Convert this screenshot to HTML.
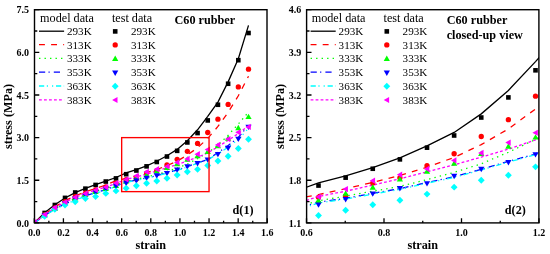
<!DOCTYPE html>
<html><head><meta charset="utf-8"><style>
html,body{margin:0;padding:0;background:#fff;}
body{width:550px;height:254px;overflow:hidden;}
svg{display:block;filter:blur(0.3px);}
text{font-family:"Liberation Serif", serif;fill:#000;}
.tl{font-size:10px;font-weight:bold;}
.ax{font-size:12.2px;font-weight:bold;}
.lg{font-size:12.2px;}
.le{font-size:11.1px;}
</style></head><body>
<svg width="550" height="254" viewBox="0 0 550 254">
<rect width="550" height="254" fill="#fff"/>
<clipPath id="c1"><rect x="34.3" y="9.7" width="233" height="213.2"/></clipPath>
<g clip-path="url(#c1)">
<path d="M34.45 222.75 L44.64 212.69 L54.83 204.75 L65.03 197.95 L75.22 192.56 L85.41 188.31 L95.61 184.62 L105.8 181.2 L116 177.49 L126.19 172.93 L136.38 169.66 L146.58 165.82 L156.77 161.24 L166.96 155.7 L177.16 149.42 L187.35 140.75 L197.55 129.8 L207.74 116.36 L217.93 102.08 L228.13 81.86 L238.32 58.71 L248.51 25.33" fill="none" stroke="#000" stroke-width="1.3"/>
<path d="M34.45 222.78 L44.64 214.27 L54.83 206.89 L65.03 200.66 L75.22 195.84 L85.41 191.87 L95.61 188.46 L105.8 185.04 L116 180.69 L126.19 178.41 L136.38 175.71 L146.58 172.73 L156.77 169.54 L166.96 165.62 L177.16 161.07 L187.35 155.1 L197.55 147.77 L207.74 138.47 L217.93 126.44 L228.13 112.41 L238.32 95.77 L248.51 76.22" fill="none" stroke="#f00" stroke-width="1.3" stroke-dasharray="5.9 6.2" stroke-dashoffset="10.52"/>
<path d="M34.45 222.79 L44.64 215.13 L54.83 208.61 L65.03 202.94 L75.22 198.4 L85.41 194.71 L95.61 191.59 L105.8 188.46 L116 185.03 L126.19 181.28 L136.38 179.18 L146.58 176.85 L156.77 174.57 L166.96 171.45 L177.16 168.04 L187.35 164.06 L197.55 158.66 L207.74 152.69 L217.93 145.43 L228.13 135.19 L238.32 124.04 L248.51 112.04" fill="none" stroke="#0f0" stroke-width="1.3" stroke-dasharray="1.4 4.1"/>
<path d="M34.45 222.79 L44.64 215.42 L54.83 209.18 L65.03 203.79 L75.22 199.54 L85.41 195.85 L95.61 192.72 L105.8 189.59 L116 185.87 L126.19 181.97 L136.38 180.17 L146.58 177.84 L156.77 175.65 L166.96 172.78 L177.16 170.08 L187.35 166.62 L197.55 162.92 L207.74 159.48 L217.93 152.65 L228.13 145.47 L238.32 137.45 L248.51 125.24" fill="none" stroke="#00f" stroke-width="1.3" stroke-dasharray="6.2 3.3 1.2 4.1"/>
<path d="M34.45 222.8 L44.64 215.7 L54.83 209.47 L65.03 204.36 L75.22 200.11 L85.41 196.42 L95.61 193.29 L105.8 190.16 L116 186.44 L126.19 182.31 L136.38 180.52 L146.58 178.18 L156.77 176 L166.96 173.12 L177.16 170.42 L187.35 166.96 L197.55 163.26 L207.74 159.82 L217.93 153.74 L228.13 147.15 L238.32 139.73 L248.51 128.32" fill="none" stroke="#0ff" stroke-width="1.3" stroke-dasharray="5.2 2.6 1.2 4 1.2 2.8"/>
<path d="M34.45 222.78 L44.64 214.56 L54.83 207.75 L65.03 202.08 L75.22 197.26 L85.41 193.57 L95.61 190.16 L105.8 187.03 L116 183.61 L126.19 179.27 L136.38 176.85 L146.58 174.01 L156.77 171.02 L166.96 167.81 L177.16 164.54 L187.35 160.93 L197.55 157.23 L207.74 152.89 L217.93 146.85 L228.13 140.31 L238.32 133.53 L248.51 125.68" fill="none" stroke="#f0f" stroke-width="1.3" stroke-dasharray="2.8 2.2"/>
<rect x="32.15" y="220.6" width="4.6" height="4.6" fill="#000"/>
<rect x="42.34" y="210.65" width="4.6" height="4.6" fill="#000"/>
<rect x="52.53" y="202.69" width="4.6" height="4.6" fill="#000"/>
<rect x="62.73" y="195.58" width="4.6" height="4.6" fill="#000"/>
<rect x="72.92" y="190.18" width="4.6" height="4.6" fill="#000"/>
<rect x="83.11" y="186.35" width="4.6" height="4.6" fill="#000"/>
<rect x="93.31" y="182.65" width="4.6" height="4.6" fill="#000"/>
<rect x="103.5" y="179.24" width="4.6" height="4.6" fill="#000"/>
<rect x="113.7" y="176.11" width="4.6" height="4.6" fill="#000"/>
<rect x="123.89" y="171.91" width="4.6" height="4.6" fill="#000"/>
<rect x="134.08" y="168.21" width="4.6" height="4.6" fill="#000"/>
<rect x="144.28" y="164.06" width="4.6" height="4.6" fill="#000"/>
<rect x="154.47" y="159.68" width="4.6" height="4.6" fill="#000"/>
<rect x="164.66" y="154.22" width="4.6" height="4.6" fill="#000"/>
<rect x="174.86" y="148.54" width="4.6" height="4.6" fill="#000"/>
<rect x="185.05" y="140.15" width="4.6" height="4.6" fill="#000"/>
<rect x="195.25" y="130.77" width="4.6" height="4.6" fill="#000"/>
<rect x="205.44" y="118.12" width="4.6" height="4.6" fill="#000"/>
<rect x="215.63" y="102.46" width="4.6" height="4.6" fill="#000"/>
<rect x="225.83" y="81.45" width="4.6" height="4.6" fill="#000"/>
<rect x="236.02" y="57.89" width="4.6" height="4.6" fill="#000"/>
<rect x="246.21" y="30.71" width="4.6" height="4.6" fill="#000"/>
<circle cx="34.45" cy="222.9" r="2.65" fill="#f00"/>
<circle cx="44.64" cy="214.66" r="2.65" fill="#f00"/>
<circle cx="54.83" cy="207.83" r="2.65" fill="#f00"/>
<circle cx="65.03" cy="201.58" r="2.65" fill="#f00"/>
<circle cx="75.22" cy="196.75" r="2.65" fill="#f00"/>
<circle cx="85.41" cy="193.19" r="2.65" fill="#f00"/>
<circle cx="95.61" cy="189.78" r="2.65" fill="#f00"/>
<circle cx="105.8" cy="186.8" r="2.65" fill="#f00"/>
<circle cx="116" cy="183.1" r="2.65" fill="#f00"/>
<circle cx="126.19" cy="179.69" r="2.65" fill="#f00"/>
<circle cx="136.38" cy="178.98" r="2.65" fill="#f00"/>
<circle cx="146.58" cy="173.07" r="2.65" fill="#f00"/>
<circle cx="156.77" cy="170.59" r="2.65" fill="#f00"/>
<circle cx="166.96" cy="164.94" r="2.65" fill="#f00"/>
<circle cx="177.16" cy="159.37" r="2.65" fill="#f00"/>
<circle cx="187.35" cy="151.32" r="2.65" fill="#f00"/>
<circle cx="197.55" cy="143.45" r="2.65" fill="#f00"/>
<circle cx="207.74" cy="132.5" r="2.65" fill="#f00"/>
<circle cx="217.93" cy="119.14" r="2.65" fill="#f00"/>
<circle cx="228.13" cy="104.45" r="2.65" fill="#f00"/>
<circle cx="238.32" cy="86.96" r="2.65" fill="#f00"/>
<circle cx="248.51" cy="69.17" r="2.65" fill="#f00"/>
<path d="M34.45 219.8L37.55 225.2L31.35 225.2Z" fill="#0f0"/>
<path d="M44.64 212.12L47.74 217.52L41.54 217.52Z" fill="#0f0"/>
<path d="M54.83 205.59L57.93 210.99L51.73 210.99Z" fill="#0f0"/>
<path d="M65.03 199.9L68.13 205.3L61.93 205.3Z" fill="#0f0"/>
<path d="M75.22 195.07L78.32 200.47L72.12 200.47Z" fill="#0f0"/>
<path d="M85.41 191.66L88.51 197.06L82.31 197.06Z" fill="#0f0"/>
<path d="M95.61 188.53L98.71 193.93L92.51 193.93Z" fill="#0f0"/>
<path d="M105.8 185.69L108.9 191.09L102.7 191.09Z" fill="#0f0"/>
<path d="M116 182.56L119.1 187.96L112.9 187.96Z" fill="#0f0"/>
<path d="M126.19 178.13L129.29 183.53L123.09 183.53Z" fill="#0f0"/>
<path d="M136.38 174.83L139.48 180.23L133.28 180.23Z" fill="#0f0"/>
<path d="M146.58 171.96L149.68 177.36L143.48 177.36Z" fill="#0f0"/>
<path d="M156.77 168.18L159.87 173.58L153.67 173.58Z" fill="#0f0"/>
<path d="M166.96 164.51L170.06 169.91L163.86 169.91Z" fill="#0f0"/>
<path d="M177.16 160.81L180.26 166.21L174.06 166.21Z" fill="#0f0"/>
<path d="M187.35 156.24L190.45 161.64L184.25 161.64Z" fill="#0f0"/>
<path d="M197.55 152.86L200.65 158.26L194.45 158.26Z" fill="#0f0"/>
<path d="M207.74 148.56L210.84 153.96L204.64 153.96Z" fill="#0f0"/>
<path d="M217.93 142.85L221.03 148.25L214.83 148.25Z" fill="#0f0"/>
<path d="M228.13 135.34L231.23 140.74L225.03 140.74Z" fill="#0f0"/>
<path d="M238.32 124.85L241.42 130.25L235.22 130.25Z" fill="#0f0"/>
<path d="M248.51 113.65L251.61 119.05L245.41 119.05Z" fill="#0f0"/>
<path d="M34.45 226L37.55 220.6L31.35 220.6Z" fill="#00f"/>
<path d="M44.64 218.61L47.74 213.21L41.54 213.21Z" fill="#00f"/>
<path d="M54.83 212.07L57.93 206.67L51.73 206.67Z" fill="#00f"/>
<path d="M65.03 206.39L68.13 200.99L61.93 200.99Z" fill="#00f"/>
<path d="M75.22 201.84L78.32 196.44L72.12 196.44Z" fill="#00f"/>
<path d="M85.41 198.43L88.51 193.03L82.31 193.03Z" fill="#00f"/>
<path d="M95.61 195.3L98.71 189.9L92.51 189.9Z" fill="#00f"/>
<path d="M105.8 191.92L108.9 186.52L102.7 186.52Z" fill="#00f"/>
<path d="M116 189.13L119.1 183.73L112.9 183.73Z" fill="#00f"/>
<path d="M126.19 186.23L129.29 180.83L123.09 180.83Z" fill="#00f"/>
<path d="M136.38 183.76L139.48 178.36L133.28 178.36Z" fill="#00f"/>
<path d="M146.58 181.11L149.68 175.71L143.48 175.71Z" fill="#00f"/>
<path d="M156.77 178.64L159.87 173.24L153.67 173.24Z" fill="#00f"/>
<path d="M166.96 176.31L170.06 170.91L163.86 170.91Z" fill="#00f"/>
<path d="M177.16 172.9L180.26 167.5L174.06 167.5Z" fill="#00f"/>
<path d="M187.35 169.63L190.45 164.23L184.25 164.23Z" fill="#00f"/>
<path d="M197.55 166.47L200.65 161.07L194.45 161.07Z" fill="#00f"/>
<path d="M207.74 162.78L210.84 157.38L204.64 157.38Z" fill="#00f"/>
<path d="M217.93 157.32L221.03 151.92L214.83 151.92Z" fill="#00f"/>
<path d="M228.13 151.24L231.23 145.84L225.03 145.84Z" fill="#00f"/>
<path d="M238.32 142.03L241.42 136.63L235.22 136.63Z" fill="#00f"/>
<path d="M248.51 130.03L251.61 124.63L245.41 124.63Z" fill="#00f"/>
<path d="M34.45 219.45L37.9 222.9L34.45 226.35L31 222.9Z" fill="#0ff"/>
<path d="M44.64 212.74L48.09 216.19L44.64 219.64L41.19 216.19Z" fill="#0ff"/>
<path d="M54.83 205.86L58.28 209.31L54.83 212.76L51.38 209.31Z" fill="#0ff"/>
<path d="M65.03 201.57L68.48 205.02L65.03 208.47L61.58 205.02Z" fill="#0ff"/>
<path d="M75.22 198.41L78.67 201.86L75.22 205.31L71.77 201.86Z" fill="#0ff"/>
<path d="M85.41 195.17L88.86 198.62L85.41 202.07L81.96 198.62Z" fill="#0ff"/>
<path d="M95.61 193.16L99.06 196.61L95.61 200.06L92.16 196.61Z" fill="#0ff"/>
<path d="M105.8 189.97L109.25 193.42L105.8 196.87L102.35 193.42Z" fill="#0ff"/>
<path d="M116 187.47L119.45 190.92L116 194.37L112.55 190.92Z" fill="#0ff"/>
<path d="M126.19 184.74L129.64 188.19L126.19 191.64L122.74 188.19Z" fill="#0ff"/>
<path d="M136.38 182.27L139.83 185.72L136.38 189.17L132.93 185.72Z" fill="#0ff"/>
<path d="M146.58 179.74L150.03 183.19L146.58 186.64L143.13 183.19Z" fill="#0ff"/>
<path d="M156.77 177.61L160.22 181.06L156.77 184.51L153.32 181.06Z" fill="#0ff"/>
<path d="M166.96 174.73L170.41 178.18L166.96 181.63L163.51 178.18Z" fill="#0ff"/>
<path d="M177.16 171.49L180.61 174.94L177.16 178.39L173.71 174.94Z" fill="#0ff"/>
<path d="M187.35 168.28L190.8 171.73L187.35 175.18L183.9 171.73Z" fill="#0ff"/>
<path d="M197.55 165.92L201 169.37L197.55 172.82L194.1 169.37Z" fill="#0ff"/>
<path d="M207.74 162.03L211.19 165.48L207.74 168.93L204.29 165.48Z" fill="#0ff"/>
<path d="M217.93 157.48L221.38 160.93L217.93 164.38L214.48 160.93Z" fill="#0ff"/>
<path d="M228.13 152.79L231.58 156.24L228.13 159.69L224.68 156.24Z" fill="#0ff"/>
<path d="M238.32 145.09L241.77 148.54L238.32 151.99L234.87 148.54Z" fill="#0ff"/>
<path d="M248.51 135.79L251.96 139.24L248.51 142.69L245.06 139.24Z" fill="#0ff"/>
<path d="M31.35 222.05L36.75 218.95L36.75 225.15Z" fill="#f0f"/>
<path d="M41.54 214.51L46.94 211.41L46.94 217.61Z" fill="#f0f"/>
<path d="M51.73 207.61L57.13 204.51L57.13 210.71Z" fill="#f0f"/>
<path d="M61.93 202.01L67.33 198.91L67.33 205.11Z" fill="#f0f"/>
<path d="M72.12 197.2L77.52 194.1L77.52 200.3Z" fill="#f0f"/>
<path d="M82.31 193.42L87.71 190.32L87.71 196.52Z" fill="#f0f"/>
<path d="M92.51 190.01L97.91 186.91L97.91 193.11Z" fill="#f0f"/>
<path d="M102.7 187.03L108.1 183.93L108.1 190.13Z" fill="#f0f"/>
<path d="M112.9 183.1L118.3 180L118.3 186.2Z" fill="#f0f"/>
<path d="M123.09 179.46L128.49 176.36L128.49 182.56Z" fill="#f0f"/>
<path d="M133.28 175.83L138.68 172.73L138.68 178.93Z" fill="#f0f"/>
<path d="M143.48 171.9L148.88 168.8L148.88 175Z" fill="#f0f"/>
<path d="M153.67 169.15L159.07 166.05L159.07 172.25Z" fill="#f0f"/>
<path d="M163.86 166.44L169.26 163.34L169.26 169.54Z" fill="#f0f"/>
<path d="M174.06 162.46L179.46 159.36L179.46 165.56Z" fill="#f0f"/>
<path d="M184.25 158.97L189.65 155.87L189.65 162.07Z" fill="#f0f"/>
<path d="M194.45 154.16L199.85 151.06L199.85 157.26Z" fill="#f0f"/>
<path d="M204.64 149.56L210.04 146.46L210.04 152.66Z" fill="#f0f"/>
<path d="M214.83 144.93L220.23 141.83L220.23 148.03Z" fill="#f0f"/>
<path d="M225.03 139.04L230.43 135.94L230.43 142.14Z" fill="#f0f"/>
<path d="M235.22 132.33L240.62 129.23L240.62 135.43Z" fill="#f0f"/>
<path d="M245.41 126.93L250.81 123.83L250.81 130.03Z" fill="#f0f"/>
</g>
<rect x="34.5" y="9.7" width="232.5" height="213.2" fill="none" stroke="#000" stroke-width="1.4"/>
<path d="M34.3 222.9V218.3 M63.42 222.9V218.3 M92.55 222.9V218.3 M121.68 222.9V218.3 M150.8 222.9V218.3 M179.93 222.9V218.3 M209.05 222.9V218.3 M238.18 222.9V218.3 M267.3 222.9V218.3 M48.86 222.9V220.7 M77.99 222.9V220.7 M107.11 222.9V220.7 M136.24 222.9V220.7 M165.36 222.9V220.7 M194.49 222.9V220.7 M223.61 222.9V220.7 M252.74 222.9V220.7 M34.3 222.9H39.3 M34.3 180.26H39.3 M34.3 137.62H39.3 M34.3 94.98H39.3 M34.3 52.34H39.3 M34.3 9.7H39.3 M34.3 201.58H37.3 M34.3 158.94H37.3 M34.3 116.3H37.3 M34.3 73.66H37.3 M34.3 31.02H37.3" stroke="#000" stroke-width="1.3" fill="none"/>
<text x="34.3" y="236" text-anchor="middle" class="tl">0.0</text>
<text x="63.42" y="236" text-anchor="middle" class="tl">0.2</text>
<text x="92.55" y="236" text-anchor="middle" class="tl">0.4</text>
<text x="121.68" y="236" text-anchor="middle" class="tl">0.6</text>
<text x="150.8" y="236" text-anchor="middle" class="tl">0.8</text>
<text x="179.93" y="236" text-anchor="middle" class="tl">1.0</text>
<text x="209.05" y="236" text-anchor="middle" class="tl">1.2</text>
<text x="238.18" y="236" text-anchor="middle" class="tl">1.4</text>
<text x="267.3" y="236" text-anchor="middle" class="tl">1.6</text>
<text x="29.1" y="226.5" text-anchor="end" class="tl">0.0</text>
<text x="29.1" y="183.86" text-anchor="end" class="tl">1.5</text>
<text x="29.1" y="141.22" text-anchor="end" class="tl">3.0</text>
<text x="29.1" y="98.58" text-anchor="end" class="tl">4.5</text>
<text x="29.1" y="55.94" text-anchor="end" class="tl">6.0</text>
<text x="29.1" y="13.3" text-anchor="end" class="tl">7.5</text>
<text x="150.8" y="248.9" text-anchor="middle" class="ax">strain</text>
<text transform="translate(12.4 116.5) rotate(-90)" text-anchor="middle" class="ax">stress (MPa)</text>
<text x="174.5" y="24.2" class="ax">C60 rubber</text>
<text x="232.6" y="214.2" class="ax">d(1)</text>
<text x="40.1" y="21.6" class="lg">model data</text>
<text x="111.9" y="21.6" class="lg">test data</text>
<path d="M39 31.2H64.1" stroke="#000" stroke-width="1.3"/>
<text x="67" y="35" class="le">293K</text>
<rect x="112.9" y="29.1" width="4.6" height="4.6" fill="#000"/>
<text x="131" y="35" class="le">293K</text>
<path d="M39 44.6H64.1" stroke="#f00" stroke-width="1.3" stroke-dasharray="5.9 6.2"/>
<text x="67" y="48.6" class="le">313K</text>
<circle cx="115.2" cy="44.9" r="2.65" fill="#f00"/>
<text x="131" y="48.6" class="le">313K</text>
<path d="M39 58.4H64.1" stroke="#0f0" stroke-width="1.3" stroke-dasharray="1.4 4.1"/>
<text x="67" y="62.3" class="le">333K</text>
<path d="M115.2 55.5L118.3 60.9L112.1 60.9Z" fill="#0f0"/>
<text x="131" y="62.3" class="le">333K</text>
<path d="M39 72.2H61.6" stroke="#00f" stroke-width="1.3" stroke-dasharray="6.2 3.3 1.2 4.1"/>
<text x="67" y="76" class="le">353K</text>
<path d="M115.2 76L118.3 70.6L112.1 70.6Z" fill="#00f"/>
<text x="131" y="76" class="le">353K</text>
<path d="M39 86H64.1" stroke="#0ff" stroke-width="1.3" stroke-dasharray="5.2 2.6 1.2 4 1.2 2.8"/>
<text x="67" y="89.8" class="le">363K</text>
<path d="M115.2 82.85L118.65 86.3L115.2 89.75L111.75 86.3Z" fill="#0ff"/>
<text x="131" y="89.8" class="le">363K</text>
<path d="M39 99.9H64.1" stroke="#f0f" stroke-width="1.3" stroke-dasharray="2.8 2.2"/>
<text x="67" y="103.5" class="le">383K</text>
<path d="M112.1 100L117.5 96.9L117.5 103.1Z" fill="#f0f"/>
<text x="131" y="103.5" class="le">383K</text>
<rect x="121.67" y="137.62" width="87.37" height="54.01" fill="none" stroke="#f00" stroke-width="1.35"/>
<clipPath id="c2"><rect x="306.5" y="9.7" width="232.5" height="213.2"/></clipPath>
<g clip-path="url(#c2)">
<path d="M74.39 289.58 L101.51 268.04 L128.64 251.02 L155.76 236.44 L182.89 224.9 L210.01 215.78 L237.14 207.87 L264.26 200.55 L291.39 192.6 L318.51 182.82 L345.64 175.81 L372.76 167.59 L399.89 157.78 L427.01 145.9 L454.14 132.44 L481.26 113.86 L508.39 90.41 L535.51 61.6 L562.64 31.01 L589.76 -12.32 L616.89 -61.93 L644.01 -133.45" fill="none" stroke="#000" stroke-width="1.3"/>
<path d="M74.39 289.64 L101.51 271.41 L128.64 255.6 L155.76 242.24 L182.89 231.92 L210.01 223.4 L237.14 216.1 L264.26 208.79 L291.39 199.45 L318.51 194.57 L345.64 188.79 L372.76 182.39 L399.89 175.57 L427.01 167.16 L454.14 157.42 L481.26 144.63 L508.39 128.91 L535.51 108.99 L562.64 83.2 L589.76 53.14 L616.89 17.48 L644.01 -24.41" fill="none" stroke="#f00" stroke-width="1.3" stroke-dasharray="5.9 6.2" stroke-dashoffset="2.72"/>
<path d="M74.39 289.67 L101.51 273.26 L128.64 259.27 L155.76 247.13 L182.89 237.41 L210.01 229.5 L237.14 222.8 L264.26 216.1 L291.39 208.75 L318.51 200.73 L345.64 196.22 L372.76 191.22 L399.89 186.35 L427.01 179.65 L454.14 172.34 L481.26 163.81 L508.39 152.24 L535.51 139.45 L562.64 123.91 L589.76 101.95 L616.89 78.06 L644.01 52.34" fill="none" stroke="#0f0" stroke-width="1.3" stroke-dasharray="1.4 4.1"/>
<path d="M74.39 289.68 L101.51 273.88 L128.64 260.5 L155.76 248.96 L182.89 239.84 L210.01 231.94 L237.14 225.24 L264.26 218.52 L291.39 210.56 L318.51 202.19 L345.64 198.35 L372.76 193.36 L399.89 188.67 L427.01 182.51 L454.14 176.73 L481.26 169.3 L508.39 161.38 L535.51 154.01 L562.64 139.37 L589.76 123.98 L616.89 106.79 L644.01 80.64" fill="none" stroke="#00f" stroke-width="1.3" stroke-dasharray="6.2 3.3 1.2 4.1" stroke-dashoffset="9.58"/>
<path d="M74.39 289.69 L101.51 274.49 L128.64 261.12 L155.76 250.18 L182.89 241.06 L210.01 233.16 L237.14 226.46 L264.26 219.74 L291.39 211.78 L318.51 202.92 L345.64 199.08 L372.76 194.09 L399.89 189.4 L427.01 183.24 L454.14 177.46 L481.26 170.03 L508.39 162.11 L535.51 154.74 L562.64 141.7 L589.76 127.59 L616.89 111.69 L644.01 87.24" fill="none" stroke="#0ff" stroke-width="1.3" stroke-dasharray="5.2 2.6 1.2 4 1.2 2.8"/>
<path d="M74.39 289.65 L101.51 272.03 L128.64 257.45 L155.76 245.29 L182.89 234.97 L210.01 227.06 L237.14 219.76 L264.26 213.05 L291.39 205.71 L318.51 196.4 L345.64 191.22 L372.76 185.13 L399.89 178.74 L427.01 171.85 L454.14 164.85 L481.26 157.11 L508.39 149.19 L535.51 139.87 L562.64 126.95 L589.76 112.93 L616.89 98.39 L644.01 81.58" fill="none" stroke="#f0f" stroke-width="1.3" stroke-dasharray="2.8 2.2"/>
<rect x="316.21" y="183.26" width="4.6" height="4.6" fill="#000"/>
<rect x="343.34" y="175.34" width="4.6" height="4.6" fill="#000"/>
<rect x="370.46" y="166.45" width="4.6" height="4.6" fill="#000"/>
<rect x="397.59" y="157.07" width="4.6" height="4.6" fill="#000"/>
<rect x="424.71" y="145.37" width="4.6" height="4.6" fill="#000"/>
<rect x="451.84" y="133.19" width="4.6" height="4.6" fill="#000"/>
<rect x="478.96" y="115.22" width="4.6" height="4.6" fill="#000"/>
<rect x="506.09" y="95.12" width="4.6" height="4.6" fill="#000"/>
<rect x="533.21" y="68.01" width="4.6" height="4.6" fill="#000"/>
<circle cx="318.51" cy="197.32" r="2.65" fill="#f00"/>
<circle cx="345.64" cy="195.79" r="2.65" fill="#f00"/>
<circle cx="372.76" cy="183.12" r="2.65" fill="#f00"/>
<circle cx="399.89" cy="177.82" r="2.65" fill="#f00"/>
<circle cx="427.01" cy="165.7" r="2.65" fill="#f00"/>
<circle cx="454.14" cy="153.76" r="2.65" fill="#f00"/>
<circle cx="481.26" cy="136.52" r="2.65" fill="#f00"/>
<circle cx="508.39" cy="119.65" r="2.65" fill="#f00"/>
<circle cx="535.51" cy="96.2" r="2.65" fill="#f00"/>
<path d="M318.51 197.51L321.61 202.91L315.41 202.91Z" fill="#0f0"/>
<path d="M345.64 190.44L348.74 195.84L342.54 195.84Z" fill="#0f0"/>
<path d="M372.76 184.29L375.86 189.69L369.66 189.69Z" fill="#0f0"/>
<path d="M399.89 176.19L402.99 181.59L396.79 181.59Z" fill="#0f0"/>
<path d="M427.01 168.33L430.11 173.73L423.91 173.73Z" fill="#0f0"/>
<path d="M454.14 160.41L457.24 165.81L451.04 165.81Z" fill="#0f0"/>
<path d="M481.26 150.6L484.36 156L478.16 156Z" fill="#0f0"/>
<path d="M508.39 143.35L511.49 148.75L505.29 148.75Z" fill="#0f0"/>
<path d="M535.51 134.15L538.61 139.55L532.41 139.55Z" fill="#0f0"/>
<path d="M318.51 207.79L321.61 202.39L315.41 202.39Z" fill="#00f"/>
<path d="M345.64 202.49L348.74 197.09L342.54 197.09Z" fill="#00f"/>
<path d="M372.76 196.82L375.86 191.42L369.66 191.42Z" fill="#00f"/>
<path d="M399.89 191.52L402.99 186.12L396.79 186.12Z" fill="#00f"/>
<path d="M427.01 186.53L430.11 181.13L423.91 181.13Z" fill="#00f"/>
<path d="M454.14 179.22L457.24 173.82L451.04 173.82Z" fill="#00f"/>
<path d="M481.26 172.21L484.36 166.81L478.16 166.81Z" fill="#00f"/>
<path d="M508.39 165.45L511.49 160.05L505.29 160.05Z" fill="#00f"/>
<path d="M535.51 157.53L538.61 152.13L532.41 152.13Z" fill="#00f"/>
<path d="M318.51 212.08L321.96 215.53L318.51 218.98L315.06 215.53Z" fill="#0ff"/>
<path d="M345.64 206.78L349.09 210.23L345.64 213.68L342.19 210.23Z" fill="#0ff"/>
<path d="M372.76 201.36L376.21 204.81L372.76 208.26L369.31 204.81Z" fill="#0ff"/>
<path d="M399.89 196.79L403.34 200.24L399.89 203.69L396.44 200.24Z" fill="#0ff"/>
<path d="M427.01 190.64L430.46 194.09L427.01 197.54L423.56 194.09Z" fill="#0ff"/>
<path d="M454.14 183.69L457.59 187.14L454.14 190.59L450.69 187.14Z" fill="#0ff"/>
<path d="M481.26 176.81L484.71 180.26L481.26 183.71L477.81 180.26Z" fill="#0ff"/>
<path d="M508.39 171.75L511.84 175.2L508.39 178.65L504.94 175.2Z" fill="#0ff"/>
<path d="M535.51 163.41L538.96 166.86L535.51 170.31L532.06 166.86Z" fill="#0ff"/>
<path d="M315.41 196.83L320.81 193.73L320.81 199.93Z" fill="#f0f"/>
<path d="M342.54 189.03L347.94 185.93L347.94 192.13Z" fill="#f0f"/>
<path d="M369.66 180.63L375.06 177.53L375.06 183.73Z" fill="#f0f"/>
<path d="M396.79 174.72L402.19 171.62L402.19 177.82Z" fill="#f0f"/>
<path d="M423.91 168.93L429.31 165.83L429.31 172.03Z" fill="#f0f"/>
<path d="M451.04 160.4L456.44 157.3L456.44 163.5Z" fill="#f0f"/>
<path d="M478.16 152.91L483.56 149.81L483.56 156.01Z" fill="#f0f"/>
<path d="M505.29 142.61L510.69 139.51L510.69 145.71Z" fill="#f0f"/>
<path d="M532.41 132.75L537.81 129.65L537.81 135.85Z" fill="#f0f"/>
</g>
<rect x="306.6" y="9.7" width="232.3" height="213.2" fill="none" stroke="#000" stroke-width="1.4"/>
<path d="M306.5 222.9V218.3 M384 222.9V218.3 M461.5 222.9V218.3 M539 222.9V218.3 M345.25 222.9V220.7 M422.75 222.9V220.7 M500.25 222.9V220.7 M306.5 222.9H311.5 M306.5 180.26H311.5 M306.5 137.62H311.5 M306.5 94.98H311.5 M306.5 52.34H311.5 M306.5 9.7H311.5 M306.5 201.58H309.5 M306.5 158.94H309.5 M306.5 116.3H309.5 M306.5 73.66H309.5 M306.5 31.02H309.5" stroke="#000" stroke-width="1.3" fill="none"/>
<text x="306.5" y="236" text-anchor="middle" class="tl">0.6</text>
<text x="384" y="236" text-anchor="middle" class="tl">0.8</text>
<text x="461.5" y="236" text-anchor="middle" class="tl">1.0</text>
<text x="539" y="236" text-anchor="middle" class="tl">1.2</text>
<text x="301.3" y="226.5" text-anchor="end" class="tl">1.1</text>
<text x="301.3" y="183.86" text-anchor="end" class="tl">1.8</text>
<text x="301.3" y="141.22" text-anchor="end" class="tl">2.5</text>
<text x="301.3" y="98.58" text-anchor="end" class="tl">3.2</text>
<text x="301.3" y="55.94" text-anchor="end" class="tl">3.9</text>
<text x="301.3" y="13.3" text-anchor="end" class="tl">4.6</text>
<text x="422.75" y="248.9" text-anchor="middle" class="ax">strain</text>
<text transform="translate(283.7 116.5) rotate(-90)" text-anchor="middle" class="ax">stress (MPa)</text>
<text x="446.7" y="24.2" class="ax">C60 rubber</text>
<text x="446.7" y="39.4" class="ax">closed-up view</text>
<text x="504.8" y="214.2" class="ax">d(2)</text>
<text x="311.7" y="21.6" class="lg">model data</text>
<text x="383.5" y="21.6" class="lg">test data</text>
<path d="M310.6 31.2H335.7" stroke="#000" stroke-width="1.3"/>
<text x="338.6" y="35" class="le">293K</text>
<rect x="384.5" y="29.1" width="4.6" height="4.6" fill="#000"/>
<text x="402.6" y="35" class="le">293K</text>
<path d="M310.6 44.6H335.7" stroke="#f00" stroke-width="1.3" stroke-dasharray="5.9 6.2"/>
<text x="338.6" y="48.6" class="le">313K</text>
<circle cx="386.8" cy="44.9" r="2.65" fill="#f00"/>
<text x="402.6" y="48.6" class="le">313K</text>
<path d="M310.6 58.4H335.7" stroke="#0f0" stroke-width="1.3" stroke-dasharray="1.4 4.1"/>
<text x="338.6" y="62.3" class="le">333K</text>
<path d="M386.8 55.5L389.9 60.9L383.7 60.9Z" fill="#0f0"/>
<text x="402.6" y="62.3" class="le">333K</text>
<path d="M310.6 72.2H333.2" stroke="#00f" stroke-width="1.3" stroke-dasharray="6.2 3.3 1.2 4.1"/>
<text x="338.6" y="76" class="le">353K</text>
<path d="M386.8 76L389.9 70.6L383.7 70.6Z" fill="#00f"/>
<text x="402.6" y="76" class="le">353K</text>
<path d="M310.6 86H335.7" stroke="#0ff" stroke-width="1.3" stroke-dasharray="5.2 2.6 1.2 4 1.2 2.8"/>
<text x="338.6" y="89.8" class="le">363K</text>
<path d="M386.8 82.85L390.25 86.3L386.8 89.75L383.35 86.3Z" fill="#0ff"/>
<text x="402.6" y="89.8" class="le">363K</text>
<path d="M310.6 99.9H335.7" stroke="#f0f" stroke-width="1.3" stroke-dasharray="2.8 2.2"/>
<text x="338.6" y="103.5" class="le">383K</text>
<path d="M383.7 100L389.1 96.9L389.1 103.1Z" fill="#f0f"/>
<text x="402.6" y="103.5" class="le">383K</text>
</svg>
</body></html>
